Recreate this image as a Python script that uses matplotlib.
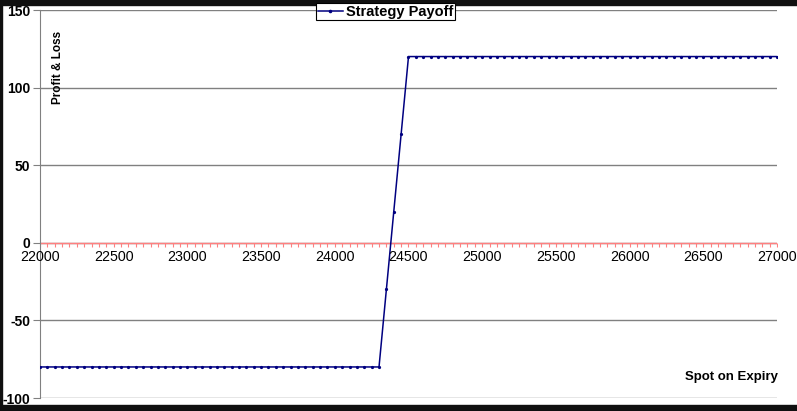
import numpy as np
import matplotlib
matplotlib.use('Agg')
import matplotlib.pyplot as plt
from matplotlib.patches import Rectangle

# данные
spot = np.arange(22000, 27001, 50)
lower_strike = 24300
upper_strike = 24500
payoff_low = -80
payoff_high = 120
payoff = np.clip(spot - lower_strike, 0, upper_strike - lower_strike) + payoff_low
zero_line = np.zeros_like(spot)

x_ticks = np.arange(22000, 27001, 500)
y_ticks = [-100, -50, 0, 50, 100, 150]

plt.rcParams['font.family'] = ['Liberation Sans', 'DejaVu Sans']

W, H = 797, 411
fig = plt.figure(figsize=(W / 100, H / 100), dpi=100)
ax = fig.add_axes([40 / W, (H - 398) / H, (777 - 40) / W, (398 - 10) / H])

for yv in y_ticks:
    ax.axhline(yv, color='#808080', lw=1.0, zorder=1)

ax.plot(spot, zero_line, color='#ff8080', lw=1.0, marker=3, ms=3, mew=0.8, zorder=2)
ax.plot(spot, payoff, color='#000080', lw=1.1, marker='o', ms=1.3, zorder=3,
        label='Strategy Payoff')

ax.set_xlim(22000, 27000)
ax.set_ylim(-100, 150)

for s in ['top', 'right', 'bottom']:
    ax.spines[s].set_visible(False)
ax.spines['left'].set_color('#808080')
ax.spines['left'].set_position(('data', 22000))

ax.set_yticks(y_ticks)
ax.set_yticklabels([str(v) for v in y_ticks], fontsize=10, fontweight='bold')
ax.tick_params(axis='y', length=5, color='#808080', pad=2)

ax.set_xticks(x_ticks)
ax.set_xticklabels([])
ax.tick_params(axis='x', length=0)
for xv in x_ticks:
    ax.text(xv, -4.5, str(xv), ha='center', va='top', fontsize=10.3)

ax.text(0.024, 0.853, 'Profit & Loss', transform=ax.transAxes, rotation=90,
        ha='center', va='center', fontsize=8.5, fontweight='bold')
ax.text(1.001, 0.054, 'Spot on Expiry', transform=ax.transAxes,
        ha='right', va='center', fontsize=9.5, fontweight='bold')

leg = fig.legend(loc='upper left', bbox_to_anchor=(316 / W, 1 - 3 / H),
                 prop={'weight': 'bold', 'size': 10.5}, frameon=True, fancybox=False,
                 handlelength=1.7, borderpad=0.12, handletextpad=0.25, borderaxespad=0,
                 markerscale=1.2)
leg.get_frame().set_edgecolor('black')
leg.get_frame().set_linewidth(0.8)
leg.get_frame().set_facecolor('white')
leg.get_frame().set_alpha(1)

# тёмная рамка по краям картинки
fig.patches.append(Rectangle((0, 1 - 5 / H), 1, 5 / H, transform=fig.transFigure,
                             color='#101010', zorder=0))
fig.patches.append(Rectangle((0, 0), 1, 6 / H, transform=fig.transFigure,
                             color='#101010', zorder=0))
fig.patches.append(Rectangle((0, 0), 2 / W, 1, transform=fig.transFigure,
                             color='#101010', zorder=0))

fig.savefig('out.png', dpi=100)
